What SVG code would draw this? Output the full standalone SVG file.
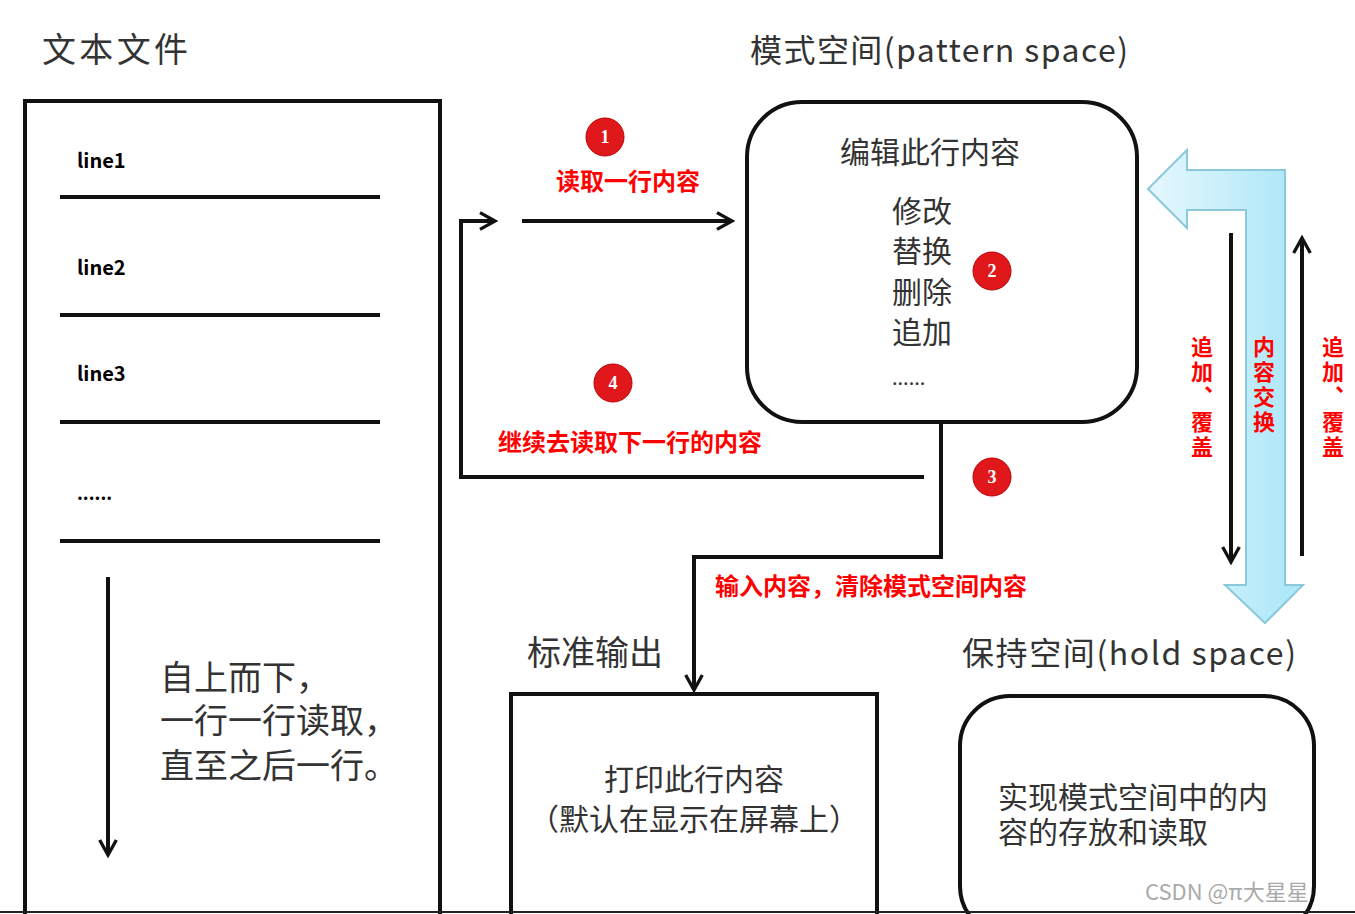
<svg xmlns="http://www.w3.org/2000/svg" width="1355" height="914" viewBox="0 0 1355 914">
<defs>
<style>
text{font-family:"Noto Sans CJK SC","Liberation Sans",sans-serif;}
.t{fill:#333;}
.r{fill:#f00;font-weight:bold;font-size:24px;}
.v{fill:#f00;font-weight:bold;font-size:22px;writing-mode:vertical-rl;letter-spacing:3px;}
.ln{stroke:#111;stroke-width:4;fill:none;}
.box{fill:#fff;stroke:#111;stroke-width:4;}
.c{fill:#e0181c;stroke:#b00;stroke-width:1;}
.cn{fill:#fff;font-family:"Liberation Serif",serif;font-size:18px;font-weight:bold;text-anchor:middle;}
</style>
<marker id="ah" viewBox="0 0 12 12" refX="10" refY="6" markerWidth="5" markerHeight="5" orient="auto" markerUnits="strokeWidth"><path d="M1,1 L10,6 L1,11" fill="none" stroke="#111" stroke-width="2"/></marker>
<linearGradient id="bl" x1="0" y1="0" x2="1" y2="0"><stop offset="0" stop-color="#e6f7fd"/><stop offset="1" stop-color="#a9e6f8"/></linearGradient>
</defs>
<rect width="1355" height="914" fill="#fff"/>
<text class="t" x="42" y="62" font-size="34" textLength="146">文本文件</text>
<text class="t" x="750" y="62" font-size="32" textLength="378">模式空间(pattern space)</text>
<g id="textfile">
<rect class="box" x="25" y="101" width="415" height="830"/>
<text x="77" y="168" font-size="20" font-weight="bold">line1</text>
<text x="77" y="275" font-size="20" font-weight="bold">line2</text>
<text x="77" y="381" font-size="20" font-weight="bold">line3</text>
<text x="77" y="500" font-size="18" font-weight="bold">......</text>
<path class="ln" d="M60,197H380M60,315H380M60,422H380M60,541H380"/>
<path class="ln" d="M108,577V855" marker-end="url(#ah)"/>
<text class="t" font-size="34"><tspan x="160" y="690">自上而下，</tspan><tspan x="160" y="733">一行一行读取，</tspan><tspan x="160" y="778">直至之后一行。</tspan></text>
</g>
<g id="pattern">
<rect class="box" x="747" y="102" width="390" height="320" rx="55"/>
<text class="t" x="930" y="163" font-size="30" text-anchor="middle">编辑此行内容</text>
<text class="t" font-size="30"><tspan x="892" y="222">修改</tspan><tspan x="892" y="262">替换</tspan><tspan x="892" y="303">删除</tspan><tspan x="892" y="343">追加</tspan></text>
<text class="t" x="892" y="385" font-size="20">......</text>
</g>
<g id="stdout">
<text class="t" x="527" y="665" font-size="34">标准输出</text>
<rect class="box" x="511" y="694" width="366" height="240"/>
<text class="t" x="694" y="790" font-size="30" text-anchor="middle">打印此行内容</text>
<text class="t" x="694" y="830" font-size="30" text-anchor="middle">（默认在显示在屏幕上）</text>
</g>
<g id="hold">
<text class="t" x="962" y="665" font-size="32" textLength="334">保持空间(hold space)</text>
<rect class="box" x="960" y="696" width="354" height="240" rx="50"/>
<text class="t" font-size="30"><tspan x="998" y="808">实现模式空间中的内</tspan><tspan x="998" y="843">容的存放和读取</tspan></text>
</g>
<g id="connectors">
<path class="ln" d="M522,221H732" marker-end="url(#ah)"/>
<path class="ln" d="M924,477H461V221H495" marker-end="url(#ah)"/>
<path class="ln" d="M941,422V557H694V690" marker-end="url(#ah)"/>
<polygon points="1187,150 1187,170 1285,170 1285,585 1303,585 1265,623 1225,585 1246,585 1246,210 1187,210 1187,228 1148,189" fill="url(#bl)" stroke="#8cc8dc" stroke-width="2"/>
<path class="ln" d="M1231,233V562" marker-end="url(#ah)"/>
<path class="ln" d="M1302,556V238" marker-end="url(#ah)"/>
</g>
<g id="labels">
<text class="r" x="628" y="190" text-anchor="middle">读取一行内容</text>
<text class="r" x="630" y="451" text-anchor="middle">继续去读取下一行的内容</text>
<text class="r" x="715" y="595">输入内容，清除模式空间内容</text>
<text class="v" x="1202" y="336">追加、覆盖</text>
<text class="v" x="1264" y="336">内容交换</text>
<text class="v" x="1333" y="336">追加、覆盖</text>
</g>
<g id="badges">
<circle class="c" cx="605" cy="137" r="19"/><text class="cn" x="605" y="143">1</text>
<circle class="c" cx="992" cy="271" r="19"/><text class="cn" x="992" y="277">2</text>
<circle class="c" cx="992" cy="477" r="19"/><text class="cn" x="992" y="483">3</text>
<circle class="c" cx="613" cy="383" r="19"/><text class="cn" x="613" y="389">4</text>
</g>
<line x1="0" y1="912" x2="1355" y2="912" stroke="#222" stroke-width="2"/>
<text x="1145" y="900" font-size="22" fill="#aaa">CSDN @π大星星</text>
</svg>
